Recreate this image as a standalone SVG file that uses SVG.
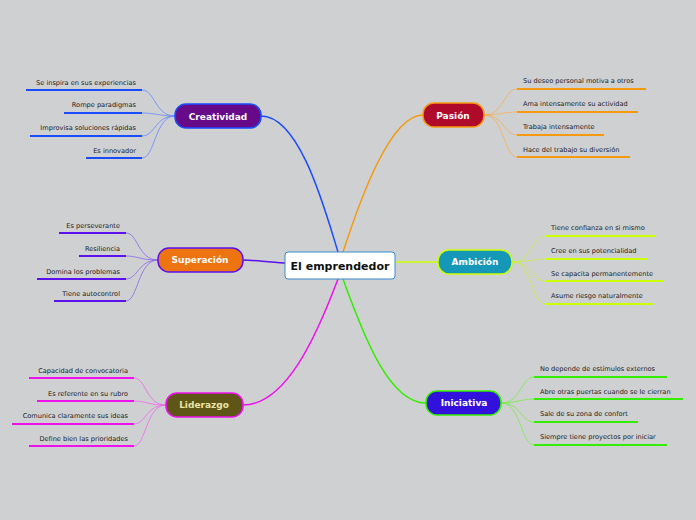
<svg xmlns="http://www.w3.org/2000/svg" width="696" height="520" viewBox="0 0 696 520">
<style>
text{font-family:"DejaVu Sans","Liberation Sans",sans-serif}
.l{font-size:6.6px;fill:#222}
.r{text-anchor:end}
.n{font-size:9px;font-weight:bold;fill:#fff;text-anchor:middle}
.c{fill:none}
.u{stroke-width:2}
</style>
<rect width="696" height="520" fill="#cfd0d2"/>
<g id="connectors" class="c" fill="none">
<g stroke="#1a4cff" stroke-width="1.5"><path d="M338,252 C325,210 300,116 261,116"/></g>
<g stroke="#f59a10" stroke-width="1.5"><path d="M343,252 C360,200 390,115 423,115"/></g>
<g stroke="#5a11ee" stroke-width="1.5"><path d="M285,263 C265,262 255,260 243,260"/></g>
<g stroke="#ccff00" stroke-width="1.5"><path d="M395,262 L438,262"/></g>
<g stroke="#ee11ee" stroke-width="1.5"><path d="M338,279 C315,340 285,405 243,405"/></g>
<g stroke="#33ee00" stroke-width="1.5"><path d="M343,279 C365,340 390,403 426,403"/></g>
<g stroke="#6688ff" stroke-width="0.8"><path d="M175,116 C155,116 155,90 142,90 M175,116 C160,116 155,113 142,113 M175,116 C155,116 155,136 142,136 M175,116 C155,116 155,158 142,158"/></g>
<g stroke="#1a4cff" class="u"><path d="M26,90H142M64,113H142M30,136H142M86,158H142"/></g>
<g stroke="#8a66ee" stroke-width="0.8"><path d="M158,260 C138,260 138,233 126,233 M158,260 C140,260 138,256 126,256 M158,260 C138,260 138,279 126,279 M158,260 C138,260 138,301 126,301"/></g>
<g stroke="#5a11ee" class="u"><path d="M59,233H126M79,256H126M37,279H126M54,301H126"/></g>
<g stroke="#ee66ee" stroke-width="0.8"><path d="M166,405 C146,405 146,378 134,378 M166,405 C148,405 146,401 134,401 M166,405 C146,405 146,424 134,424 M166,405 C146,405 146,446 134,446"/></g>
<g stroke="#ee11ee" class="u"><path d="M29,378H134M37,401H134M12,424H134M29,446H134"/></g>
<g stroke="#f5b050" stroke-width="0.8"><path d="M484,115 C504,115 504,89 517,89 M484,115 C500,115 504,112 517,112 M484,115 C504,115 504,135 517,135 M484,115 C504,115 504,157 517,157"/></g>
<g stroke="#f59a10" class="u"><path d="M517,89H646M517,112H638M517,135H604M517,157H630"/></g>
<g stroke="#ccee44" stroke-width="0.8"><path d="M512,262 C532,262 532,236 545,236 M512,262 C528,262 532,259 545,259 M512,262 C532,262 532,281 545,281 M512,262 C532,262 532,304 545,304"/></g>
<g stroke="#ccff00" class="u"><path d="M545,236H655M545,259H647M545,281H663M545,304H653"/></g>
<g stroke="#77ee44" stroke-width="0.8"><path d="M501,403 C521,403 521,377 534,377 M501,403 C517,403 521,399 534,399 M501,403 C521,403 521,422 534,422 M501,403 C521,403 521,445 534,445"/></g>
<g stroke="#33ee00" class="u"><path d="M534,377H667M534,399H683M534,422H638M534,445H667"/></g>
</g>
<g id="center"><rect x="285" y="252" width="110" height="27" rx="3" fill="#fff" stroke="#3a8ad0" stroke-width="1"/><text x="340" y="270" text-anchor="middle" font-size="11" font-weight="bold" fill="#111">El emprendedor</text></g>
<g id="creatividad"><rect x="175" y="104" width="86" height="24" rx="11" fill="#660a8a" stroke="#1a4cff" stroke-width="1.5"/><text class="n" x="218" y="120">Creatividad</text>
<text class="l r" x="136" y="85">Se inspira en sus experiencias</text><text class="l r" x="136" y="107">Rompe paradigmas</text><text class="l r" x="136" y="130">Improvisa soluciones rápidas</text><text class="l r" x="136" y="153">Es innovador</text></g>
<g id="superacion"><rect x="158" y="248" width="85" height="24" rx="11" fill="#ee7411" stroke="#5a11ee" stroke-width="1.5"/><text class="n" x="200" y="263">Superación</text>
<text class="l r" x="120" y="228">Es perseverante</text><text class="l r" x="120" y="251">Resiliencia</text><text class="l r" x="120" y="274">Domina los problemas</text><text class="l r" x="120" y="296">Tiene autocontrol</text></g>
<g id="liderazgo"><rect x="166" y="393" width="77" height="24" rx="11" fill="#5d5616" stroke="#ee11ee" stroke-width="1.5"/><text class="n" x="204" y="408" fill="#ece4a8" style="fill:#ece4a8">Liderazgo</text>
<text class="l r" x="128" y="373">Capacidad de convocatoria</text><text class="l r" x="128" y="396">Es referente en su rubro</text><text class="l r" x="128" y="418">Comunica claramente sus ideas</text><text class="l r" x="128" y="441">Define bien las prioridades</text></g>
<g id="pasion"><rect x="423" y="103" width="61" height="24" rx="11" fill="#b00a2a" stroke="#f59a10" stroke-width="1.5"/><text class="n" x="453" y="119">Pasión</text>
<text class="l" x="523" y="83">Su deseo personal motiva a otros</text><text class="l" x="523" y="106">Ama intensamente su actividad</text><text class="l" x="523" y="129">Trabaja intensamente</text><text class="l" x="523" y="152">Hace del trabajo su diversión</text></g>
<g id="ambicion"><rect x="438" y="250" width="74" height="24" rx="11" fill="#1597b8" stroke="#ccff00" stroke-width="1.5"/><text class="n" x="475" y="265">Ambición</text>
<text class="l" x="551" y="230">Tiene confianza en si mismo</text><text class="l" x="551" y="253">Cree en sus potencialidad</text><text class="l" x="551" y="276">Se capacita permanentemente</text><text class="l" x="551" y="298">Asume riesgo naturalmente</text></g>
<g id="iniciativa"><rect x="426" y="391" width="75" height="24" rx="11" fill="#3311dd" stroke="#33ee00" stroke-width="1.5"/><text class="n" x="464" y="406">Iniciativa</text>
<text class="l" x="540" y="371">No depende de estímulos externos</text><text class="l" x="540" y="394">Abre otras puertas cuando se le cierran</text><text class="l" x="540" y="416">Sale de su zona de confort</text><text class="l" x="540" y="439">Siempre tiene proyectos por iniciar</text></g>
</svg>
